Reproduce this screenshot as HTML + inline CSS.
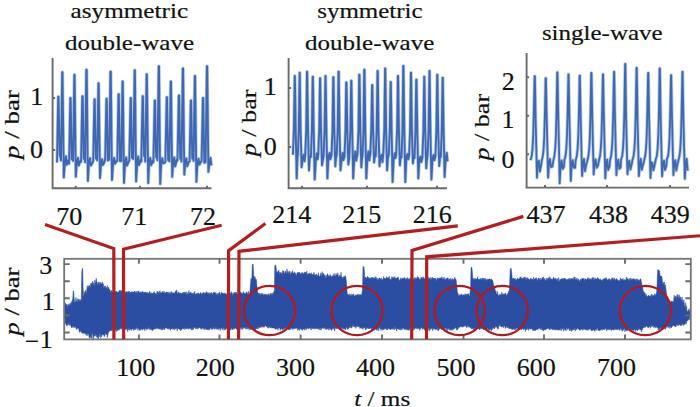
<!DOCTYPE html>
<html><head><meta charset="utf-8"><title>Pressure traces</title>
<style>
html,body{margin:0;padding:0;background:#fff;}
svg{display:block;}
text{font-family:"Liberation Serif", "DejaVu Serif", serif;fill:#111;stroke:#111;stroke-width:0.2px;}
</style></head>
<body>
<svg width="700" height="407" viewBox="0 0 700 407">
<rect width="700" height="407" fill="#fff"/>
<path d="M57.0,162.6 L58.2,96.8 L58.5,96.8 L59.7,155.2 L60.6,157.6 L61.0,160.5 L62.2,72.2 L62.5,72.2 L63.8,177.4 L64.8,163.8 L65.9,156.1 L66.8,164.8 L68.4,160.1 L69.1,163.7 L70.3,98.0 L70.6,98.0 L71.8,159.3 L72.7,156.5 L73.1,160.8 L74.3,74.7 L74.6,74.7 L75.8,176.7 L76.8,162.9 L78.0,158.0 L78.8,165.5 L80.5,160.8 L81.1,161.8 L82.3,96.3 L82.7,96.3 L83.8,158.7 L84.7,157.0 L85.1,162.2 L86.3,69.7 L86.7,69.7 L87.9,180.9 L88.9,163.5 L90.0,158.3 L90.9,165.5 L92.5,162.9 L93.2,160.8 L94.4,99.2 L94.7,99.2 L95.9,158.6 L96.8,158.5 L97.2,160.3 L98.4,83.3 L98.7,83.3 L100.0,178.0 L101.0,164.9 L102.1,159.2 L103.0,165.1 L104.6,161.7 L105.2,158.7 L106.4,98.7 L106.8,98.7 L107.9,160.5 L108.8,155.6 L109.2,159.7 L110.4,71.7 L110.8,71.7 L112.0,180.0 L113.0,164.7 L114.1,158.0 L115.0,163.9 L116.6,161.0 L117.3,161.0 L118.5,94.3 L118.8,94.3 L120.0,161.1 L120.9,158.1 L121.3,161.2 L122.5,81.5 L122.8,81.5 L124.0,182.9 L125.0,163.8 L126.2,157.4 L127.0,165.6 L128.7,161.6 L129.3,160.8 L130.6,98.0 L130.9,98.0 L132.0,157.8 L132.9,157.3 L133.3,159.0 L134.6,70.2 L134.9,70.2 L136.1,181.4 L137.1,164.5 L138.2,156.5 L139.1,165.1 L140.7,160.0 L141.3,161.6 L142.6,96.3 L142.9,96.3 L144.1,155.9 L144.9,155.6 L145.3,161.6 L146.6,74.2 L146.9,74.2 L148.2,183.0 L149.2,161.8 L150.2,157.9 L151.2,165.3 L152.8,160.4 L153.4,162.3 L154.7,100.5 L155.0,100.5 L156.1,157.2 L157.0,157.5 L157.4,160.2 L158.7,66.1 L159.0,66.1 L160.2,183.9 L161.2,164.0 L162.3,158.1 L163.2,163.3 L164.8,162.7 L165.4,161.6 L166.7,97.3 L167.0,97.3 L168.2,160.1 L169.0,158.7 L169.4,161.3 L170.7,81.5 L171.0,81.5 L172.2,176.8 L173.2,163.2 L174.3,157.5 L175.2,166.4 L176.9,159.5 L177.5,160.5 L178.8,95.5 L179.1,95.5 L180.2,158.5 L181.1,157.3 L181.5,161.5 L182.8,68.5 L183.1,68.5 L184.3,174.6 L185.3,162.3 L186.4,158.5 L187.3,166.2 L188.9,161.8 L189.6,161.2 L190.8,100.5 L191.1,100.5 L192.3,158.5 L193.2,157.4 L193.6,160.8 L194.8,75.9 L195.1,75.9 L196.4,181.9 L197.4,163.2 L198.5,158.7 L199.4,164.9 L201.0,161.5 L201.6,161.2 L202.9,98.0 L203.2,98.0 L204.3,162.8 L205.2,159.2 L205.6,162.2 L206.9,66.1 L207.2,66.1 L208.4,171.9 L209.4,163.7 L210.5,157.8 L211.4,165.5" fill="none" stroke="#6d9ad2" stroke-opacity="0.5" stroke-width="3.4" stroke-linejoin="round"/>
<path d="M57.0,162.6 L58.2,96.8 L58.5,96.8 L59.7,155.2 L60.6,157.6 L61.0,160.5 L62.2,72.2 L62.5,72.2 L63.8,177.4 L64.8,163.8 L65.9,156.1 L66.8,164.8 L68.4,160.1 L69.1,163.7 L70.3,98.0 L70.6,98.0 L71.8,159.3 L72.7,156.5 L73.1,160.8 L74.3,74.7 L74.6,74.7 L75.8,176.7 L76.8,162.9 L78.0,158.0 L78.8,165.5 L80.5,160.8 L81.1,161.8 L82.3,96.3 L82.7,96.3 L83.8,158.7 L84.7,157.0 L85.1,162.2 L86.3,69.7 L86.7,69.7 L87.9,180.9 L88.9,163.5 L90.0,158.3 L90.9,165.5 L92.5,162.9 L93.2,160.8 L94.4,99.2 L94.7,99.2 L95.9,158.6 L96.8,158.5 L97.2,160.3 L98.4,83.3 L98.7,83.3 L100.0,178.0 L101.0,164.9 L102.1,159.2 L103.0,165.1 L104.6,161.7 L105.2,158.7 L106.4,98.7 L106.8,98.7 L107.9,160.5 L108.8,155.6 L109.2,159.7 L110.4,71.7 L110.8,71.7 L112.0,180.0 L113.0,164.7 L114.1,158.0 L115.0,163.9 L116.6,161.0 L117.3,161.0 L118.5,94.3 L118.8,94.3 L120.0,161.1 L120.9,158.1 L121.3,161.2 L122.5,81.5 L122.8,81.5 L124.0,182.9 L125.0,163.8 L126.2,157.4 L127.0,165.6 L128.7,161.6 L129.3,160.8 L130.6,98.0 L130.9,98.0 L132.0,157.8 L132.9,157.3 L133.3,159.0 L134.6,70.2 L134.9,70.2 L136.1,181.4 L137.1,164.5 L138.2,156.5 L139.1,165.1 L140.7,160.0 L141.3,161.6 L142.6,96.3 L142.9,96.3 L144.1,155.9 L144.9,155.6 L145.3,161.6 L146.6,74.2 L146.9,74.2 L148.2,183.0 L149.2,161.8 L150.2,157.9 L151.2,165.3 L152.8,160.4 L153.4,162.3 L154.7,100.5 L155.0,100.5 L156.1,157.2 L157.0,157.5 L157.4,160.2 L158.7,66.1 L159.0,66.1 L160.2,183.9 L161.2,164.0 L162.3,158.1 L163.2,163.3 L164.8,162.7 L165.4,161.6 L166.7,97.3 L167.0,97.3 L168.2,160.1 L169.0,158.7 L169.4,161.3 L170.7,81.5 L171.0,81.5 L172.2,176.8 L173.2,163.2 L174.3,157.5 L175.2,166.4 L176.9,159.5 L177.5,160.5 L178.8,95.5 L179.1,95.5 L180.2,158.5 L181.1,157.3 L181.5,161.5 L182.8,68.5 L183.1,68.5 L184.3,174.6 L185.3,162.3 L186.4,158.5 L187.3,166.2 L188.9,161.8 L189.6,161.2 L190.8,100.5 L191.1,100.5 L192.3,158.5 L193.2,157.4 L193.6,160.8 L194.8,75.9 L195.1,75.9 L196.4,181.9 L197.4,163.2 L198.5,158.7 L199.4,164.9 L201.0,161.5 L201.6,161.2 L202.9,98.0 L203.2,98.0 L204.3,162.8 L205.2,159.2 L205.6,162.2 L206.9,66.1 L207.2,66.1 L208.4,171.9 L209.4,163.7 L210.5,157.8 L211.4,165.5" fill="none" stroke="#4068b2" stroke-width="1.9" stroke-linejoin="round"/>
<path d="M52.6,58 V188.2 H211.5 M75.7,188.2 v-2.5 M140,188.2 v-2.5 M207,188.2 v-2.5 M52.6,98 h2.5 M52.6,150 h2.5" fill="none" stroke="#6a6a6a" stroke-width="1.9"/>
<path d="M292.9,154.8 L293.9,130.0 L294.7,75.9 L294.9,75.9 L295.7,130.0 L296.7,178.4 L297.5,156.0 L297.8,155.6 L298.8,130.0 L299.6,72.7 L299.8,72.7 L300.6,130.0 L301.6,167.3 L302.7,159.6 L303.7,154.7 L304.6,161.2 L305.2,155.2 L306.2,130.0 L307.0,71.7 L307.2,71.7 L308.0,130.0 L309.0,170.4 L309.8,156.8 L310.9,157.1 L311.9,130.0 L312.7,76.6 L312.9,76.6 L313.7,130.0 L314.7,179.4 L315.8,161.5 L316.8,153.4 L317.7,159.2 L318.2,154.6 L319.2,130.0 L320.0,78.3 L320.2,78.3 L321.0,130.0 L322.0,165.3 L322.8,160.4 L323.6,156.3 L324.6,130.0 L325.4,75.9 L325.6,75.9 L326.4,130.0 L327.4,178.4 L328.5,156.4 L329.5,152.9 L330.4,159.3 L331.5,155.1 L332.5,130.0 L333.2,77.1 L333.5,77.1 L334.3,130.0 L335.3,166.3 L336.1,157.3 L336.7,154.9 L337.7,130.0 L338.5,71.7 L338.8,71.7 L339.5,130.0 L340.5,170.4 L341.6,159.8 L342.6,152.9 L343.5,160.1 L344.5,156.6 L345.5,130.0 L346.2,82.5 L346.5,82.5 L347.3,130.0 L348.3,164.5 L349.1,159.2 L349.4,153.5 L350.4,130.0 L351.2,80.8 L351.4,80.8 L352.2,130.0 L353.2,178.4 L354.3,158.6 L355.3,151.5 L356.2,160.7 L357.5,154.1 L358.5,130.0 L359.2,74.7 L359.5,74.7 L360.3,130.0 L361.3,167.3 L362.1,158.0 L362.5,155.9 L363.5,130.0 L364.2,69.7 L364.5,69.7 L365.3,130.0 L366.3,178.4 L367.4,158.5 L368.4,151.4 L369.3,160.4 L370.3,154.4 L371.3,130.0 L372.1,85.0 L372.3,85.0 L373.1,130.0 L374.1,162.5 L374.9,156.0 L375.7,156.3 L376.7,130.0 L377.5,71.0 L377.8,71.0 L378.5,130.0 L379.5,166.3 L380.6,157.3 L381.6,154.8 L382.5,162.1 L383.3,153.0 L384.3,130.0 L385.1,68.5 L385.3,68.5 L386.1,130.0 L387.1,170.4 L387.9,158.4 L388.8,154.3 L389.8,130.0 L390.6,82.0 L390.8,82.0 L391.6,130.0 L392.6,182.0 L393.7,159.0 L394.7,153.1 L395.6,158.0 L396.1,155.6 L397.1,130.0 L397.9,75.9 L398.1,75.9 L398.9,130.0 L399.9,165.3 L400.7,157.6 L401.5,157.4 L402.5,130.0 L403.2,66.0 L403.5,66.0 L404.3,130.0 L405.3,182.0 L406.4,157.2 L407.4,154.1 L408.3,159.4 L409.1,155.5 L410.1,130.0 L410.9,72.7 L411.1,72.7 L411.9,130.0 L412.9,163.5 L413.7,156.7 L414.5,158.2 L415.5,130.0 L416.2,79.6 L416.5,79.6 L417.3,130.0 L418.3,178.4 L419.4,159.9 L420.4,156.6 L421.3,162.0 L422.4,157.3 L423.4,130.0 L424.2,76.6 L424.4,76.6 L425.2,130.0 L426.2,168.3 L427.0,159.3 L427.6,155.1 L428.6,130.0 L429.4,71.0 L429.6,71.0 L430.4,130.0 L431.4,179.5 L432.5,158.9 L433.5,155.0 L434.4,160.4 L435.4,156.3 L436.4,130.0 L437.2,74.7 L437.4,74.7 L438.2,130.0 L439.2,166.0 L440.0,158.0 L440.8,156.9 L441.8,130.0 L442.6,77.6 L442.8,77.6 L443.6,130.0 L444.6,177.0 L445.7,158.5 L446.7,152.8 L447.6,161.4" fill="none" stroke="#6d9ad2" stroke-opacity="0.5" stroke-width="3.4" stroke-linejoin="round"/>
<path d="M292.9,154.8 L293.9,130.0 L294.7,75.9 L294.9,75.9 L295.7,130.0 L296.7,178.4 L297.5,156.0 L297.8,155.6 L298.8,130.0 L299.6,72.7 L299.8,72.7 L300.6,130.0 L301.6,167.3 L302.7,159.6 L303.7,154.7 L304.6,161.2 L305.2,155.2 L306.2,130.0 L307.0,71.7 L307.2,71.7 L308.0,130.0 L309.0,170.4 L309.8,156.8 L310.9,157.1 L311.9,130.0 L312.7,76.6 L312.9,76.6 L313.7,130.0 L314.7,179.4 L315.8,161.5 L316.8,153.4 L317.7,159.2 L318.2,154.6 L319.2,130.0 L320.0,78.3 L320.2,78.3 L321.0,130.0 L322.0,165.3 L322.8,160.4 L323.6,156.3 L324.6,130.0 L325.4,75.9 L325.6,75.9 L326.4,130.0 L327.4,178.4 L328.5,156.4 L329.5,152.9 L330.4,159.3 L331.5,155.1 L332.5,130.0 L333.2,77.1 L333.5,77.1 L334.3,130.0 L335.3,166.3 L336.1,157.3 L336.7,154.9 L337.7,130.0 L338.5,71.7 L338.8,71.7 L339.5,130.0 L340.5,170.4 L341.6,159.8 L342.6,152.9 L343.5,160.1 L344.5,156.6 L345.5,130.0 L346.2,82.5 L346.5,82.5 L347.3,130.0 L348.3,164.5 L349.1,159.2 L349.4,153.5 L350.4,130.0 L351.2,80.8 L351.4,80.8 L352.2,130.0 L353.2,178.4 L354.3,158.6 L355.3,151.5 L356.2,160.7 L357.5,154.1 L358.5,130.0 L359.2,74.7 L359.5,74.7 L360.3,130.0 L361.3,167.3 L362.1,158.0 L362.5,155.9 L363.5,130.0 L364.2,69.7 L364.5,69.7 L365.3,130.0 L366.3,178.4 L367.4,158.5 L368.4,151.4 L369.3,160.4 L370.3,154.4 L371.3,130.0 L372.1,85.0 L372.3,85.0 L373.1,130.0 L374.1,162.5 L374.9,156.0 L375.7,156.3 L376.7,130.0 L377.5,71.0 L377.8,71.0 L378.5,130.0 L379.5,166.3 L380.6,157.3 L381.6,154.8 L382.5,162.1 L383.3,153.0 L384.3,130.0 L385.1,68.5 L385.3,68.5 L386.1,130.0 L387.1,170.4 L387.9,158.4 L388.8,154.3 L389.8,130.0 L390.6,82.0 L390.8,82.0 L391.6,130.0 L392.6,182.0 L393.7,159.0 L394.7,153.1 L395.6,158.0 L396.1,155.6 L397.1,130.0 L397.9,75.9 L398.1,75.9 L398.9,130.0 L399.9,165.3 L400.7,157.6 L401.5,157.4 L402.5,130.0 L403.2,66.0 L403.5,66.0 L404.3,130.0 L405.3,182.0 L406.4,157.2 L407.4,154.1 L408.3,159.4 L409.1,155.5 L410.1,130.0 L410.9,72.7 L411.1,72.7 L411.9,130.0 L412.9,163.5 L413.7,156.7 L414.5,158.2 L415.5,130.0 L416.2,79.6 L416.5,79.6 L417.3,130.0 L418.3,178.4 L419.4,159.9 L420.4,156.6 L421.3,162.0 L422.4,157.3 L423.4,130.0 L424.2,76.6 L424.4,76.6 L425.2,130.0 L426.2,168.3 L427.0,159.3 L427.6,155.1 L428.6,130.0 L429.4,71.0 L429.6,71.0 L430.4,130.0 L431.4,179.5 L432.5,158.9 L433.5,155.0 L434.4,160.4 L435.4,156.3 L436.4,130.0 L437.2,74.7 L437.4,74.7 L438.2,130.0 L439.2,166.0 L440.0,158.0 L440.8,156.9 L441.8,130.0 L442.6,77.6 L442.8,77.6 L443.6,130.0 L444.6,177.0 L445.7,158.5 L446.7,152.8 L447.6,161.4" fill="none" stroke="#4068b2" stroke-width="1.9" stroke-linejoin="round"/>
<path d="M288.6,58 V188.2 H447 M302,188.2 v-2.5 M367,188.2 v-2.5 M437,188.2 v-2.5 M288.6,88 h2.5 M288.6,147 h2.5" fill="none" stroke="#6a6a6a" stroke-width="1.9"/>
<path d="M530.5,160.2 L531.7,156.0 L532.5,149.0 L533.2,136.0 L533.8,114.0 L534.6,76.1 L534.9,76.1 L535.6,118.0 L536.3,148.0 L537.0,177.6 L537.9,162.0 L538.9,160.8 L539.9,171.7 L541.3,164.5 L541.6,161.4 L542.8,156.0 L543.6,149.0 L544.3,136.0 L544.9,114.0 L545.6,78.2 L545.9,78.2 L546.7,118.0 L547.4,148.0 L548.1,177.6 L549.0,163.5 L550.0,159.0 L551.0,167.0 L552.4,166.7 L553.2,161.0 L554.4,156.0 L555.2,149.0 L555.9,136.0 L556.5,114.0 L557.2,72.5 L557.5,72.5 L558.3,118.0 L559.0,148.0 L559.7,183.3 L560.6,165.0 L561.6,160.3 L562.6,169.0 L564.0,166.7 L564.3,160.5 L565.5,156.0 L566.3,149.0 L567.0,136.0 L567.6,114.0 L568.4,74.3 L568.6,74.3 L569.4,118.0 L570.1,148.0 L570.8,180.9 L571.7,163.5 L572.7,160.2 L573.7,167.7 L575.1,167.8 L575.6,160.9 L576.8,156.0 L577.6,149.0 L578.3,136.0 L578.9,114.0 L579.6,75.6 L579.9,75.6 L580.7,118.0 L581.4,148.0 L582.1,176.0 L583.0,165.0 L584.0,158.9 L585.0,171.2 L586.4,163.6 L587.2,161.5 L588.4,156.0 L589.2,149.0 L589.9,136.0 L590.5,114.0 L591.2,73.0 L591.5,73.0 L592.3,118.0 L593.0,148.0 L593.7,174.4 L594.6,161.8 L595.6,159.3 L596.6,167.8 L598.0,165.7 L598.8,161.0 L600.0,156.0 L600.8,149.0 L601.5,136.0 L602.1,114.0 L602.9,74.3 L603.1,74.3 L603.9,118.0 L604.6,148.0 L605.3,178.3 L606.2,164.1 L607.2,159.6 L608.2,170.0 L609.6,166.3 L609.9,160.8 L611.1,156.0 L611.9,149.0 L612.6,136.0 L613.2,114.0 L614.0,71.8 L614.2,71.8 L615.0,118.0 L615.7,148.0 L616.4,175.1 L617.3,162.8 L618.3,159.7 L619.3,168.9 L620.7,167.3 L621.0,159.8 L622.2,156.0 L623.0,149.0 L623.7,136.0 L624.3,114.0 L625.1,64.0 L625.4,64.0 L626.1,118.0 L626.8,148.0 L627.5,174.3 L628.4,163.6 L629.4,160.8 L630.4,169.6 L631.8,163.9 L632.4,160.2 L633.6,156.0 L634.4,149.0 L635.1,136.0 L635.7,114.0 L636.5,67.9 L636.8,67.9 L637.5,118.0 L638.2,148.0 L638.9,176.1 L639.8,165.2 L640.8,158.8 L641.8,169.9 L643.2,164.3 L644.0,161.3 L645.2,156.0 L646.0,149.0 L646.7,136.0 L647.3,114.0 L648.1,73.0 L648.4,73.0 L649.1,118.0 L649.8,148.0 L650.5,178.0 L651.4,162.2 L652.4,162.9 L653.4,170.3 L654.8,164.4 L655.6,160.1 L656.8,156.0 L657.6,149.0 L658.3,136.0 L658.9,114.0 L659.6,68.4 L659.9,68.4 L660.7,118.0 L661.4,148.0 L662.1,176.4 L663.0,164.0 L664.0,160.7 L665.0,170.0 L666.4,165.6 L666.9,159.4 L668.1,156.0 L668.9,149.0 L669.6,136.0 L670.2,114.0 L671.0,75.1 L671.2,75.1 L672.0,118.0 L672.7,148.0 L673.4,175.1 L674.3,162.8 L675.3,160.2 L676.3,170.7 L677.7,163.2 L678.3,160.8 L679.5,156.0 L680.3,149.0 L681.0,136.0 L681.6,114.0 L682.4,71.8 L682.6,71.8 L683.4,118.0 L684.1,148.0 L684.8,178.8 L685.7,165.1 L686.7,158.7 L687.7,170.8" fill="none" stroke="#6d9ad2" stroke-opacity="0.5" stroke-width="3.4" stroke-linejoin="round"/>
<path d="M530.5,160.2 L531.7,156.0 L532.5,149.0 L533.2,136.0 L533.8,114.0 L534.6,76.1 L534.9,76.1 L535.6,118.0 L536.3,148.0 L537.0,177.6 L537.9,162.0 L538.9,160.8 L539.9,171.7 L541.3,164.5 L541.6,161.4 L542.8,156.0 L543.6,149.0 L544.3,136.0 L544.9,114.0 L545.6,78.2 L545.9,78.2 L546.7,118.0 L547.4,148.0 L548.1,177.6 L549.0,163.5 L550.0,159.0 L551.0,167.0 L552.4,166.7 L553.2,161.0 L554.4,156.0 L555.2,149.0 L555.9,136.0 L556.5,114.0 L557.2,72.5 L557.5,72.5 L558.3,118.0 L559.0,148.0 L559.7,183.3 L560.6,165.0 L561.6,160.3 L562.6,169.0 L564.0,166.7 L564.3,160.5 L565.5,156.0 L566.3,149.0 L567.0,136.0 L567.6,114.0 L568.4,74.3 L568.6,74.3 L569.4,118.0 L570.1,148.0 L570.8,180.9 L571.7,163.5 L572.7,160.2 L573.7,167.7 L575.1,167.8 L575.6,160.9 L576.8,156.0 L577.6,149.0 L578.3,136.0 L578.9,114.0 L579.6,75.6 L579.9,75.6 L580.7,118.0 L581.4,148.0 L582.1,176.0 L583.0,165.0 L584.0,158.9 L585.0,171.2 L586.4,163.6 L587.2,161.5 L588.4,156.0 L589.2,149.0 L589.9,136.0 L590.5,114.0 L591.2,73.0 L591.5,73.0 L592.3,118.0 L593.0,148.0 L593.7,174.4 L594.6,161.8 L595.6,159.3 L596.6,167.8 L598.0,165.7 L598.8,161.0 L600.0,156.0 L600.8,149.0 L601.5,136.0 L602.1,114.0 L602.9,74.3 L603.1,74.3 L603.9,118.0 L604.6,148.0 L605.3,178.3 L606.2,164.1 L607.2,159.6 L608.2,170.0 L609.6,166.3 L609.9,160.8 L611.1,156.0 L611.9,149.0 L612.6,136.0 L613.2,114.0 L614.0,71.8 L614.2,71.8 L615.0,118.0 L615.7,148.0 L616.4,175.1 L617.3,162.8 L618.3,159.7 L619.3,168.9 L620.7,167.3 L621.0,159.8 L622.2,156.0 L623.0,149.0 L623.7,136.0 L624.3,114.0 L625.1,64.0 L625.4,64.0 L626.1,118.0 L626.8,148.0 L627.5,174.3 L628.4,163.6 L629.4,160.8 L630.4,169.6 L631.8,163.9 L632.4,160.2 L633.6,156.0 L634.4,149.0 L635.1,136.0 L635.7,114.0 L636.5,67.9 L636.8,67.9 L637.5,118.0 L638.2,148.0 L638.9,176.1 L639.8,165.2 L640.8,158.8 L641.8,169.9 L643.2,164.3 L644.0,161.3 L645.2,156.0 L646.0,149.0 L646.7,136.0 L647.3,114.0 L648.1,73.0 L648.4,73.0 L649.1,118.0 L649.8,148.0 L650.5,178.0 L651.4,162.2 L652.4,162.9 L653.4,170.3 L654.8,164.4 L655.6,160.1 L656.8,156.0 L657.6,149.0 L658.3,136.0 L658.9,114.0 L659.6,68.4 L659.9,68.4 L660.7,118.0 L661.4,148.0 L662.1,176.4 L663.0,164.0 L664.0,160.7 L665.0,170.0 L666.4,165.6 L666.9,159.4 L668.1,156.0 L668.9,149.0 L669.6,136.0 L670.2,114.0 L671.0,75.1 L671.2,75.1 L672.0,118.0 L672.7,148.0 L673.4,175.1 L674.3,162.8 L675.3,160.2 L676.3,170.7 L677.7,163.2 L678.3,160.8 L679.5,156.0 L680.3,149.0 L681.0,136.0 L681.6,114.0 L682.4,71.8 L682.6,71.8 L683.4,118.0 L684.1,148.0 L684.8,178.8 L685.7,165.1 L686.7,158.7 L687.7,170.8" fill="none" stroke="#4068b2" stroke-width="1.8" stroke-linejoin="round"/>
<path d="M526.6,53 V187.6 H689 M545,187.6 v-2.5 M607,187.6 v-2.5 M670,187.6 v-2.5 M526.6,77.3 h2.5 M526.6,115.8 h2.5 M526.6,154.3 h2.5" fill="none" stroke="#6a6a6a" stroke-width="1.9"/>
<path d="M64.2,308.0 L64.7,305.7 L65.1,302.9 L65.6,303.2 L66.0,305.3 L66.5,304.2 L66.9,305.6 L67.4,307.5 L67.8,304.3 L68.3,303.9 L68.7,305.6 L69.2,305.2 L69.6,304.6 L70.1,302.8 L70.5,304.1 L71.0,305.1 L71.4,301.6 L71.9,302.7 L72.3,300.1 L72.8,298.5 L73.2,291.0 L73.7,291.0 L74.1,297.6 L74.6,302.4 L75.0,302.0 L75.5,301.4 L75.9,297.5 L76.4,300.6 L76.8,301.2 L77.3,301.4 L77.7,298.6 L78.2,300.2 L78.6,299.3 L79.1,299.4 L79.5,302.3 L80.0,299.2 L80.4,300.0 L80.9,300.9 L81.3,299.0 L81.8,271.5 L82.2,268.6 L82.7,268.5 L83.1,287.5 L83.6,296.2 L84.0,296.0 L84.5,291.6 L84.9,293.1 L85.4,291.6 L85.8,290.0 L86.3,294.3 L86.7,290.7 L87.2,285.6 L87.6,287.8 L88.1,288.2 L88.5,285.8 L89.0,287.1 L89.4,285.2 L89.9,286.5 L90.3,288.0 L90.8,283.1 L91.2,284.8 L91.7,283.2 L92.1,284.2 L92.6,281.1 L93.0,282.2 L93.5,283.0 L93.9,285.3 L94.4,285.7 L94.8,280.1 L95.3,281.2 L95.7,284.2 L96.2,278.3 L96.6,281.6 L97.1,282.3 L97.5,285.3 L98.0,284.2 L98.4,282.0 L98.9,282.0 L99.3,282.3 L99.8,286.3 L100.2,282.2 L100.7,282.7 L101.1,284.3 L101.6,283.5 L102.0,283.6 L102.5,281.8 L102.9,284.4 L103.4,283.8 L103.8,287.7 L104.3,287.0 L104.7,285.9 L105.2,287.8 L105.6,285.9 L106.1,289.4 L106.5,287.4 L107.0,289.1 L107.4,285.4 L107.9,289.4 L108.3,287.3 L108.8,287.4 L109.2,289.5 L109.7,289.3 L110.1,290.7 L110.6,293.0 L111.0,290.2 L111.5,290.6 L111.9,291.7 L112.4,292.2 L112.8,291.7 L113.3,291.8 L113.7,292.7 L114.2,292.5 L114.6,291.0 L115.1,292.0 L115.5,292.1 L116.0,291.0 L116.4,292.3 L116.9,291.2 L117.3,293.0 L117.8,292.3 L118.2,292.2 L118.7,291.5 L119.1,292.0 L119.6,290.1 L120.0,291.0 L120.5,292.5 L120.9,290.0 L121.4,293.0 L121.8,290.4 L122.3,292.9 L122.7,291.3 L123.2,293.0 L123.6,292.3 L124.1,290.7 L124.5,293.5 L125.0,293.7 L125.4,292.2 L125.9,292.0 L126.3,292.1 L126.8,291.3 L127.2,293.3 L127.7,291.7 L128.1,292.2 L128.6,291.5 L129.0,291.7 L129.5,291.0 L129.9,293.6 L130.4,292.2 L130.8,293.3 L131.3,292.3 L131.7,291.6 L132.2,292.0 L132.6,291.8 L133.1,292.4 L133.5,292.0 L134.0,292.1 L134.4,291.0 L134.9,291.6 L135.3,294.0 L135.8,291.7 L136.2,291.3 L136.7,292.7 L137.1,293.8 L137.6,291.0 L138.0,292.2 L138.5,291.8 L138.9,290.7 L139.4,293.2 L139.8,292.4 L140.3,292.5 L140.7,291.7 L141.2,292.9 L141.6,292.0 L142.1,292.4 L142.5,291.4 L143.0,291.3 L143.4,293.9 L143.9,292.0 L144.3,292.8 L144.8,292.5 L145.2,292.1 L145.7,292.1 L146.1,293.2 L146.6,292.3 L147.0,292.4 L147.5,292.6 L147.9,293.8 L148.4,293.3 L148.8,293.0 L149.3,292.1 L149.7,291.2 L150.2,293.6 L150.6,293.6 L151.1,292.5 L151.5,293.2 L152.0,293.4 L152.4,293.5 L152.9,293.6 L153.3,292.2 L153.8,294.2 L154.2,291.5 L154.7,293.6 L155.1,293.2 L155.6,293.6 L156.0,294.6 L156.5,294.2 L156.9,291.6 L157.4,291.1 L157.8,293.6 L158.3,291.8 L158.7,292.8 L159.2,293.6 L159.6,291.1 L160.1,290.7 L160.5,293.1 L161.0,292.9 L161.4,292.6 L161.9,292.9 L162.3,292.0 L162.8,291.3 L163.2,292.7 L163.7,291.9 L164.1,291.2 L164.6,293.4 L165.0,292.8 L165.5,293.3 L165.9,291.9 L166.4,292.2 L166.8,291.9 L167.3,292.0 L167.7,293.1 L168.2,292.1 L168.6,293.2 L169.1,293.2 L169.5,294.9 L170.0,291.5 L170.4,293.8 L170.9,292.8 L171.3,292.9 L171.8,291.5 L172.2,292.5 L172.7,293.7 L173.1,292.8 L173.6,293.0 L174.0,292.6 L174.5,294.1 L174.9,292.9 L175.4,290.8 L175.8,292.3 L176.3,291.0 L176.7,289.7 L177.2,292.4 L177.6,294.3 L178.1,293.0 L178.5,291.8 L179.0,292.0 L179.4,294.1 L179.9,293.2 L180.3,293.1 L180.8,293.0 L181.2,293.1 L181.7,293.8 L182.1,293.6 L182.6,293.2 L183.0,292.0 L183.5,293.5 L183.9,292.4 L184.4,294.1 L184.8,291.8 L185.3,292.9 L185.7,293.0 L186.2,291.7 L186.6,294.8 L187.1,294.5 L187.5,292.6 L188.0,293.9 L188.4,293.5 L188.9,290.5 L189.3,293.3 L189.8,293.0 L190.2,293.2 L190.7,292.0 L191.1,292.8 L191.6,292.9 L192.0,294.3 L192.5,293.5 L192.9,293.1 L193.4,294.7 L193.8,292.6 L194.3,292.8 L194.7,291.3 L195.2,294.7 L195.6,294.1 L196.1,294.1 L196.5,293.8 L197.0,293.3 L197.4,293.4 L197.9,292.9 L198.3,293.0 L198.8,293.2 L199.2,294.7 L199.7,293.8 L200.1,293.1 L200.6,292.6 L201.0,292.6 L201.5,294.8 L201.9,293.7 L202.4,293.3 L202.8,292.9 L203.3,292.1 L203.7,293.2 L204.2,294.1 L204.6,292.8 L205.1,293.0 L205.5,293.0 L206.0,293.3 L206.4,291.6 L206.9,293.0 L207.3,292.4 L207.8,294.1 L208.2,292.5 L208.7,293.8 L209.1,294.8 L209.6,292.9 L210.0,292.6 L210.5,293.4 L210.9,293.3 L211.4,292.3 L211.8,293.7 L212.3,295.3 L212.7,293.0 L213.2,293.1 L213.6,292.2 L214.1,293.6 L214.5,292.0 L215.0,292.2 L215.4,294.6 L215.9,292.4 L216.3,294.4 L216.8,294.8 L217.2,293.5 L217.7,293.8 L218.1,295.2 L218.6,293.1 L219.0,292.7 L219.5,291.9 L219.9,293.3 L220.4,294.8 L220.8,294.3 L221.3,292.4 L221.7,292.5 L222.2,292.8 L222.6,293.6 L223.1,293.1 L223.5,293.5 L224.0,293.6 L224.4,293.0 L224.9,293.3 L225.3,293.5 L225.8,293.2 L226.2,293.8 L226.7,295.2 L227.1,293.9 L227.6,293.4 L228.0,291.7 L228.5,293.7 L228.9,291.4 L229.4,291.9 L229.8,294.2 L230.3,294.1 L230.7,293.2 L231.2,291.6 L231.6,293.0 L232.1,292.7 L232.5,294.0 L233.0,295.6 L233.4,293.6 L233.9,292.6 L234.3,292.2 L234.8,293.3 L235.2,293.2 L235.7,292.2 L236.1,293.5 L236.6,292.2 L237.0,294.5 L237.5,294.4 L237.9,294.5 L238.4,292.9 L238.8,293.9 L239.3,293.3 L239.7,293.0 L240.2,293.1 L240.6,292.1 L241.1,291.9 L241.5,294.1 L242.0,293.1 L242.4,293.5 L242.9,294.3 L243.3,291.5 L243.8,292.5 L244.2,293.4 L244.7,293.6 L245.1,292.8 L245.6,294.2 L246.0,293.4 L246.5,291.9 L246.9,292.2 L247.4,293.9 L247.8,293.5 L248.3,291.2 L248.7,294.4 L249.2,293.6 L249.6,294.3 L250.1,289.1 L250.5,284.2 L251.0,278.4 L251.4,280.3 L251.9,277.1 L252.3,264.5 L252.8,263.9 L253.2,264.5 L253.7,276.1 L254.1,276.3 L254.6,278.3 L255.0,276.7 L255.5,279.6 L255.9,279.3 L256.4,279.4 L256.8,284.5 L257.3,289.0 L257.7,292.6 L258.2,293.3 L258.6,293.3 L259.1,294.2 L259.5,293.5 L260.0,293.2 L260.4,294.5 L260.9,295.4 L261.3,293.0 L261.8,294.6 L262.2,293.9 L262.7,293.6 L263.1,295.4 L263.6,294.1 L264.0,296.1 L264.5,293.8 L264.9,295.0 L265.4,294.4 L265.8,293.9 L266.3,295.3 L266.7,294.5 L267.2,295.3 L267.6,294.7 L268.1,293.6 L268.5,294.6 L269.0,294.8 L269.4,295.7 L269.9,293.8 L270.3,294.7 L270.8,293.0 L271.2,295.4 L271.7,293.7 L272.1,292.9 L272.6,294.3 L273.0,295.1 L273.5,292.1 L273.9,292.2 L274.4,290.2 L274.8,265.5 L275.3,265.9 L275.7,264.7 L276.2,268.0 L276.6,273.3 L277.1,271.5 L277.5,273.1 L278.0,271.2 L278.4,270.9 L278.9,270.0 L279.3,275.2 L279.8,272.2 L280.2,273.0 L280.7,272.6 L281.1,272.9 L281.6,272.7 L282.0,275.4 L282.5,271.3 L282.9,270.5 L283.4,271.3 L283.8,270.9 L284.3,273.8 L284.7,273.9 L285.2,271.5 L285.6,270.9 L286.1,272.4 L286.5,274.8 L287.0,268.9 L287.4,273.6 L287.9,271.4 L288.3,274.4 L288.8,271.5 L289.2,272.6 L289.7,270.9 L290.1,271.7 L290.6,275.0 L291.0,274.2 L291.5,272.5 L291.9,271.9 L292.4,270.5 L292.8,272.6 L293.3,273.1 L293.7,273.1 L294.2,273.1 L294.6,271.7 L295.1,273.2 L295.5,273.2 L296.0,275.1 L296.4,275.9 L296.9,273.2 L297.3,272.3 L297.8,273.3 L298.2,272.6 L298.7,272.4 L299.1,273.4 L299.6,272.0 L300.0,274.3 L300.5,273.4 L300.9,273.9 L301.4,273.3 L301.8,272.6 L302.3,272.3 L302.7,273.4 L303.2,273.0 L303.6,274.1 L304.1,273.8 L304.5,271.9 L305.0,274.0 L305.4,272.0 L305.9,273.1 L306.3,273.6 L306.8,271.1 L307.2,274.2 L307.7,274.3 L308.1,273.9 L308.6,273.5 L309.0,273.7 L309.5,272.8 L309.9,273.9 L310.4,273.5 L310.8,274.4 L311.3,272.7 L311.7,274.7 L312.2,274.6 L312.6,274.2 L313.1,273.9 L313.5,275.3 L314.0,272.2 L314.4,275.2 L314.9,275.0 L315.3,275.0 L315.8,275.2 L316.2,273.8 L316.7,274.4 L317.1,275.7 L317.6,275.4 L318.0,275.1 L318.5,272.8 L318.9,275.7 L319.4,276.6 L319.8,276.4 L320.3,275.3 L320.7,272.9 L321.2,276.4 L321.6,274.9 L322.1,271.6 L322.5,275.7 L323.0,273.1 L323.4,273.4 L323.9,274.3 L324.3,277.0 L324.8,274.7 L325.2,275.6 L325.7,277.7 L326.1,277.5 L326.6,275.2 L327.0,275.0 L327.5,273.6 L327.9,274.4 L328.4,276.0 L328.8,276.0 L329.3,275.6 L329.7,276.9 L330.2,274.4 L330.6,275.5 L331.1,276.6 L331.5,276.4 L332.0,277.1 L332.4,276.2 L332.9,275.2 L333.3,276.2 L333.8,274.3 L334.2,273.4 L334.7,276.5 L335.1,275.7 L335.6,276.2 L336.0,273.4 L336.5,275.3 L336.9,275.0 L337.4,274.7 L337.8,272.7 L338.3,275.4 L338.7,277.2 L339.2,276.5 L339.6,275.1 L340.1,276.0 L340.5,277.1 L341.0,272.2 L341.4,275.9 L341.9,276.9 L342.3,277.1 L342.8,278.5 L343.2,277.7 L343.7,276.6 L344.1,276.6 L344.6,277.3 L345.0,275.5 L345.5,276.2 L345.9,277.6 L346.4,281.5 L346.8,288.1 L347.3,294.0 L347.7,294.3 L348.2,295.6 L348.6,294.3 L349.1,296.0 L349.5,293.7 L350.0,294.6 L350.4,294.7 L350.9,295.8 L351.3,296.2 L351.8,293.7 L352.2,294.4 L352.7,295.6 L353.1,294.6 L353.6,293.7 L354.0,296.3 L354.5,295.7 L354.9,295.7 L355.4,294.7 L355.8,296.2 L356.3,294.9 L356.7,296.2 L357.2,294.2 L357.6,294.3 L358.1,295.3 L358.5,294.4 L359.0,295.8 L359.4,295.3 L359.9,294.1 L360.3,295.1 L360.8,294.7 L361.2,295.9 L361.7,293.9 L362.1,293.0 L362.6,284.3 L363.0,266.5 L363.5,268.5 L363.9,266.6 L364.4,271.5 L364.8,278.0 L365.3,277.9 L365.7,277.0 L366.2,278.1 L366.6,278.5 L367.1,277.2 L367.5,276.4 L368.0,276.6 L368.4,278.7 L368.9,277.3 L369.3,277.9 L369.8,278.3 L370.2,278.7 L370.7,277.8 L371.1,278.6 L371.6,277.2 L372.0,277.8 L372.5,277.1 L372.9,279.3 L373.4,278.1 L373.8,277.4 L374.3,277.8 L374.7,278.0 L375.2,278.9 L375.6,276.6 L376.1,277.2 L376.5,277.9 L377.0,280.8 L377.4,279.2 L377.9,278.1 L378.3,279.0 L378.8,280.3 L379.2,278.1 L379.7,277.9 L380.1,279.5 L380.6,278.8 L381.0,279.0 L381.5,277.8 L381.9,280.2 L382.4,280.0 L382.8,278.9 L383.3,279.0 L383.7,276.3 L384.2,279.0 L384.6,278.1 L385.1,278.8 L385.5,279.0 L386.0,278.0 L386.4,276.7 L386.9,278.7 L387.3,277.6 L387.8,278.0 L388.2,277.8 L388.7,278.0 L389.1,276.1 L389.6,279.6 L390.0,278.6 L390.5,279.5 L390.9,280.4 L391.4,278.4 L391.8,276.6 L392.3,277.5 L392.7,277.2 L393.2,277.9 L393.6,278.5 L394.1,276.4 L394.5,278.8 L395.0,276.9 L395.4,278.7 L395.9,278.3 L396.3,278.1 L396.8,278.4 L397.2,277.9 L397.7,277.8 L398.1,276.8 L398.6,278.4 L399.0,280.3 L399.5,280.4 L399.9,279.8 L400.4,279.2 L400.8,277.8 L401.3,279.9 L401.7,278.4 L402.2,278.4 L402.6,278.2 L403.1,278.6 L403.5,278.0 L404.0,278.4 L404.4,277.4 L404.9,278.1 L405.3,280.8 L405.8,278.4 L406.2,278.3 L406.7,279.0 L407.1,279.2 L407.6,277.4 L408.0,278.3 L408.5,279.4 L408.9,278.8 L409.4,278.6 L409.8,280.1 L410.3,277.8 L410.7,278.6 L411.2,278.0 L411.6,280.0 L412.1,276.6 L412.5,277.9 L413.0,278.0 L413.4,279.2 L413.9,279.2 L414.3,280.0 L414.8,277.0 L415.2,279.3 L415.7,278.3 L416.1,277.9 L416.6,279.1 L417.0,277.7 L417.5,276.5 L417.9,278.2 L418.4,277.1 L418.8,277.9 L419.3,279.0 L419.7,278.9 L420.2,280.2 L420.6,278.4 L421.1,277.1 L421.5,277.9 L422.0,277.7 L422.4,277.4 L422.9,279.1 L423.3,278.0 L423.8,276.7 L424.2,279.3 L424.7,278.5 L425.1,279.0 L425.6,278.8 L426.0,279.3 L426.5,278.7 L426.9,279.9 L427.4,279.1 L427.8,279.1 L428.3,279.1 L428.7,277.2 L429.2,278.5 L429.6,278.4 L430.1,278.9 L430.5,277.4 L431.0,280.4 L431.4,278.8 L431.9,277.5 L432.3,277.0 L432.8,278.5 L433.2,278.7 L433.7,278.0 L434.1,278.8 L434.6,278.1 L435.0,279.3 L435.5,278.0 L435.9,278.7 L436.4,279.8 L436.8,281.4 L437.3,277.8 L437.7,278.3 L438.2,278.0 L438.6,279.6 L439.1,277.7 L439.5,278.3 L440.0,278.8 L440.4,277.8 L440.9,277.9 L441.3,278.4 L441.8,276.7 L442.2,277.4 L442.7,278.4 L443.1,279.0 L443.6,278.7 L444.0,277.1 L444.5,278.4 L444.9,279.7 L445.4,279.4 L445.8,278.8 L446.3,278.0 L446.7,279.5 L447.2,278.3 L447.6,277.7 L448.1,278.1 L448.5,280.4 L449.0,279.1 L449.4,280.1 L449.9,278.5 L450.3,279.9 L450.8,278.3 L451.2,278.8 L451.7,281.4 L452.1,279.7 L452.6,278.5 L453.0,278.9 L453.5,279.3 L453.9,280.2 L454.4,278.5 L454.8,277.2 L455.3,278.7 L455.7,279.0 L456.2,280.4 L456.6,284.6 L457.1,288.8 L457.5,293.9 L458.0,293.0 L458.4,295.0 L458.9,296.3 L459.3,295.1 L459.8,294.7 L460.2,294.6 L460.7,296.4 L461.1,293.7 L461.6,294.6 L462.0,295.3 L462.5,295.6 L462.9,294.5 L463.4,295.3 L463.8,294.7 L464.3,295.0 L464.7,294.7 L465.2,293.7 L465.6,294.8 L466.1,295.6 L466.5,293.8 L467.0,294.5 L467.4,295.3 L467.9,293.6 L468.3,294.8 L468.8,293.5 L469.2,295.7 L469.7,296.6 L470.1,292.0 L470.6,287.2 L471.0,267.5 L471.5,267.6 L471.9,267.5 L472.4,273.0 L472.8,278.5 L473.3,279.6 L473.7,278.5 L474.2,280.0 L474.6,278.8 L475.1,278.0 L475.5,279.0 L476.0,279.5 L476.4,278.8 L476.9,279.3 L477.3,278.3 L477.8,276.7 L478.2,279.8 L478.7,279.6 L479.1,279.1 L479.6,279.0 L480.0,280.0 L480.5,278.6 L480.9,278.3 L481.4,278.9 L481.8,280.3 L482.3,277.7 L482.7,280.3 L483.2,278.5 L483.6,278.0 L484.1,280.4 L484.5,279.1 L485.0,277.9 L485.4,278.9 L485.9,280.2 L486.3,280.4 L486.8,278.8 L487.2,279.7 L487.7,280.0 L488.1,278.7 L488.6,279.7 L489.0,279.3 L489.5,278.8 L489.9,278.9 L490.4,279.5 L490.8,279.5 L491.3,278.9 L491.7,279.0 L492.2,280.6 L492.6,280.1 L493.1,282.5 L493.5,284.5 L494.0,285.6 L494.4,289.1 L494.9,287.7 L495.3,291.0 L495.8,291.0 L496.2,293.8 L496.7,294.3 L497.1,291.3 L497.6,292.9 L498.0,295.2 L498.5,295.3 L498.9,295.2 L499.4,294.4 L499.8,295.0 L500.3,295.2 L500.7,294.4 L501.2,295.5 L501.6,292.2 L502.1,295.1 L502.5,293.5 L503.0,295.5 L503.4,294.3 L503.9,293.6 L504.3,294.9 L504.8,293.6 L505.2,293.6 L505.7,292.9 L506.1,294.5 L506.6,295.0 L507.0,295.5 L507.5,293.5 L507.9,293.9 L508.4,292.0 L508.8,291.0 L509.3,290.3 L509.7,281.9 L510.2,269.8 L510.6,268.3 L511.1,268.3 L511.5,270.8 L512.0,275.9 L512.4,279.7 L512.9,278.3 L513.3,279.2 L513.8,277.9 L514.2,279.1 L514.7,279.1 L515.1,278.3 L515.6,280.8 L516.0,279.1 L516.5,280.5 L516.9,279.7 L517.4,278.1 L517.8,278.4 L518.3,279.2 L518.7,278.8 L519.2,278.8 L519.6,278.5 L520.1,277.0 L520.5,278.6 L521.0,276.6 L521.4,279.2 L521.9,278.1 L522.3,278.1 L522.8,278.6 L523.2,279.1 L523.7,277.4 L524.1,277.1 L524.6,277.8 L525.0,276.8 L525.5,277.9 L525.9,280.4 L526.4,277.8 L526.8,279.5 L527.3,277.5 L527.7,279.2 L528.2,278.6 L528.6,278.8 L529.1,279.5 L529.5,280.6 L530.0,279.1 L530.4,279.0 L530.9,277.9 L531.3,279.5 L531.8,278.7 L532.2,279.7 L532.7,278.9 L533.1,280.7 L533.6,276.9 L534.0,278.6 L534.5,279.8 L534.9,278.6 L535.4,278.2 L535.8,278.7 L536.3,277.6 L536.7,279.1 L537.2,281.4 L537.6,280.1 L538.1,277.9 L538.5,278.1 L539.0,278.6 L539.4,280.0 L539.9,278.2 L540.3,278.3 L540.8,279.9 L541.2,279.9 L541.7,278.6 L542.1,277.9 L542.6,277.5 L543.0,278.3 L543.5,276.8 L543.9,279.8 L544.4,278.4 L544.8,279.5 L545.3,280.9 L545.7,280.2 L546.2,277.9 L546.6,279.9 L547.1,280.2 L547.5,278.3 L548.0,278.1 L548.4,278.9 L548.9,277.4 L549.3,280.5 L549.8,276.6 L550.2,277.9 L550.7,278.8 L551.1,278.8 L551.6,279.2 L552.0,279.3 L552.5,278.8 L552.9,280.2 L553.4,276.9 L553.8,279.0 L554.3,278.3 L554.7,279.2 L555.2,279.3 L555.6,278.1 L556.1,278.4 L556.5,279.8 L557.0,279.4 L557.4,278.4 L557.9,281.1 L558.3,281.4 L558.8,277.6 L559.2,279.4 L559.7,281.6 L560.1,279.9 L560.6,279.3 L561.0,278.9 L561.5,278.5 L561.9,278.9 L562.4,278.5 L562.8,279.8 L563.3,278.7 L563.7,278.6 L564.2,277.9 L564.6,279.0 L565.1,278.2 L565.5,278.9 L566.0,280.1 L566.4,279.5 L566.9,279.6 L567.3,279.4 L567.8,279.2 L568.2,279.0 L568.7,278.8 L569.1,279.9 L569.6,278.0 L570.0,280.4 L570.5,279.1 L570.9,278.4 L571.4,278.6 L571.8,278.4 L572.3,279.3 L572.7,278.4 L573.2,280.3 L573.6,278.3 L574.1,276.8 L574.5,278.4 L575.0,277.1 L575.4,279.1 L575.9,280.2 L576.3,279.8 L576.8,277.8 L577.2,278.4 L577.7,280.9 L578.1,279.4 L578.6,279.1 L579.0,280.2 L579.5,281.6 L579.9,280.4 L580.4,279.3 L580.8,279.5 L581.3,279.8 L581.7,278.5 L582.2,278.1 L582.6,279.2 L583.1,278.2 L583.5,279.1 L584.0,279.2 L584.4,281.5 L584.9,278.3 L585.3,279.0 L585.8,279.0 L586.2,279.6 L586.7,280.2 L587.1,278.7 L587.6,278.3 L588.0,277.5 L588.5,278.2 L588.9,279.7 L589.4,279.2 L589.8,278.2 L590.3,278.8 L590.7,279.2 L591.2,279.7 L591.6,278.6 L592.1,278.9 L592.5,277.4 L593.0,278.0 L593.4,280.8 L593.9,277.0 L594.3,278.8 L594.8,279.4 L595.2,278.8 L595.7,278.4 L596.1,279.1 L596.6,279.2 L597.0,279.1 L597.5,277.3 L597.9,279.0 L598.4,278.3 L598.8,278.6 L599.3,279.4 L599.7,279.8 L600.2,280.1 L600.6,278.7 L601.1,280.1 L601.5,280.4 L602.0,280.3 L602.4,280.6 L602.9,279.1 L603.3,279.0 L603.8,280.0 L604.2,277.9 L604.7,279.4 L605.1,278.7 L605.6,278.9 L606.0,277.5 L606.5,278.3 L606.9,279.2 L607.4,280.1 L607.8,280.2 L608.3,279.2 L608.7,279.1 L609.2,278.4 L609.6,279.6 L610.1,279.0 L610.5,279.9 L611.0,281.0 L611.4,279.2 L611.9,277.8 L612.3,278.4 L612.8,277.8 L613.2,278.1 L613.7,280.6 L614.1,279.5 L614.6,277.8 L615.0,279.9 L615.5,280.5 L615.9,278.9 L616.4,278.6 L616.8,278.9 L617.3,279.6 L617.7,279.9 L618.2,280.5 L618.6,280.5 L619.1,280.5 L619.5,280.7 L620.0,280.0 L620.4,277.8 L620.9,279.2 L621.3,279.6 L621.8,278.9 L622.2,280.2 L622.7,279.0 L623.1,278.4 L623.6,280.8 L624.0,280.0 L624.5,279.5 L624.9,280.2 L625.4,280.4 L625.8,279.7 L626.3,276.9 L626.7,278.7 L627.2,278.9 L627.6,278.4 L628.1,279.5 L628.5,280.5 L629.0,278.9 L629.4,278.2 L629.9,281.4 L630.3,278.9 L630.8,278.1 L631.2,279.6 L631.7,279.8 L632.1,278.7 L632.6,280.1 L633.0,278.9 L633.5,278.4 L633.9,279.5 L634.4,280.1 L634.8,278.7 L635.3,279.7 L635.7,279.3 L636.2,282.2 L636.6,278.7 L637.1,280.8 L637.5,279.3 L638.0,279.3 L638.4,280.1 L638.9,280.3 L639.3,280.7 L639.8,279.7 L640.2,278.8 L640.7,278.9 L641.1,280.4 L641.6,282.6 L642.0,285.6 L642.5,286.7 L642.9,289.4 L643.4,291.6 L643.8,292.0 L644.3,292.1 L644.7,293.4 L645.2,293.2 L645.6,296.4 L646.1,294.1 L646.5,296.3 L647.0,295.8 L647.4,297.0 L647.9,296.4 L648.3,295.4 L648.8,295.5 L649.2,295.9 L649.7,296.1 L650.1,295.5 L650.6,295.9 L651.0,297.4 L651.5,294.0 L651.9,295.9 L652.4,294.7 L652.8,295.7 L653.3,296.3 L653.7,295.3 L654.2,296.1 L654.6,293.6 L655.1,296.2 L655.5,294.4 L656.0,294.9 L656.4,292.5 L656.9,290.2 L657.3,276.3 L657.8,269.5 L658.2,271.1 L658.7,269.8 L659.1,271.1 L659.6,271.0 L660.0,275.4 L660.5,276.7 L660.9,275.8 L661.4,276.5 L661.8,276.0 L662.3,280.1 L662.7,284.3 L663.2,281.9 L663.6,283.9 L664.1,283.7 L664.5,282.0 L665.0,287.3 L665.4,284.9 L665.9,289.1 L666.3,292.3 L666.8,295.8 L667.2,297.1 L667.7,299.1 L668.1,299.0 L668.6,300.1 L669.0,303.7 L669.5,302.4 L669.9,301.5 L670.4,301.7 L670.8,303.2 L671.3,300.9 L671.7,302.0 L672.2,301.0 L672.6,302.7 L673.1,301.4 L673.5,302.7 L674.0,295.2 L674.4,296.4 L674.9,298.9 L675.3,296.6 L675.8,296.1 L676.2,299.6 L676.7,296.0 L677.1,294.7 L677.6,294.5 L678.0,297.5 L678.5,297.6 L678.9,294.7 L679.4,295.5 L679.8,298.3 L680.3,298.5 L680.7,296.7 L681.2,299.8 L681.6,300.5 L682.1,297.1 L682.5,300.5 L683.0,302.7 L683.4,301.6 L683.9,299.6 L684.3,303.7 L684.8,306.3 L685.2,308.5 L685.7,302.5 L686.1,311.9 L686.6,305.8 L687.0,310.2 L687.5,311.4 L687.9,311.6 L688.4,310.8 L688.8,309.1 L689.3,312.9 L689.7,310.9 L690.2,308.1 L690.2,316.5 L689.7,317.4 L689.3,319.8 L688.8,319.1 L688.4,319.8 L687.9,320.8 L687.5,320.6 L687.0,321.1 L686.6,322.0 L686.1,324.2 L685.7,322.0 L685.2,324.3 L684.8,324.5 L684.3,324.6 L683.9,323.2 L683.4,325.8 L683.0,324.4 L682.5,323.7 L682.1,324.7 L681.6,325.6 L681.2,324.8 L680.7,325.6 L680.3,325.5 L679.8,324.7 L679.4,324.6 L678.9,325.5 L678.5,325.2 L678.0,325.0 L677.6,325.5 L677.1,324.0 L676.7,325.1 L676.2,326.3 L675.8,326.4 L675.3,326.7 L674.9,326.6 L674.4,326.1 L674.0,325.9 L673.5,325.4 L673.1,325.1 L672.6,326.0 L672.2,326.7 L671.7,327.2 L671.3,328.0 L670.8,326.4 L670.4,326.7 L669.9,328.5 L669.5,326.7 L669.0,326.2 L668.6,327.0 L668.1,327.9 L667.7,326.3 L667.2,326.1 L666.8,326.8 L666.3,327.4 L665.9,328.3 L665.4,329.4 L665.0,326.4 L664.5,328.7 L664.1,328.6 L663.6,328.5 L663.2,327.7 L662.7,329.6 L662.3,327.5 L661.8,329.4 L661.4,329.1 L660.9,327.8 L660.5,327.7 L660.0,329.2 L659.6,327.5 L659.1,330.1 L658.7,327.7 L658.2,329.8 L657.8,327.0 L657.3,328.2 L656.9,326.8 L656.4,327.0 L656.0,327.5 L655.5,326.3 L655.1,327.9 L654.6,326.6 L654.2,327.0 L653.7,327.5 L653.3,326.0 L652.8,324.9 L652.4,326.8 L651.9,325.4 L651.5,326.1 L651.0,327.3 L650.6,328.4 L650.1,325.1 L649.7,327.1 L649.2,326.3 L648.8,327.6 L648.3,327.7 L647.9,326.9 L647.4,327.4 L647.0,325.9 L646.5,325.9 L646.1,326.4 L645.6,327.3 L645.2,327.1 L644.7,326.9 L644.3,327.6 L643.8,327.4 L643.4,327.9 L642.9,327.9 L642.5,329.6 L642.0,329.8 L641.6,332.2 L641.1,330.3 L640.7,329.3 L640.2,330.1 L639.8,328.9 L639.3,328.5 L638.9,330.0 L638.4,328.1 L638.0,330.2 L637.5,330.5 L637.1,330.4 L636.6,329.5 L636.2,329.1 L635.7,331.6 L635.3,330.0 L634.8,328.5 L634.4,330.3 L633.9,330.0 L633.5,330.5 L633.0,329.9 L632.6,330.0 L632.1,330.2 L631.7,331.0 L631.2,329.0 L630.8,329.7 L630.3,329.8 L629.9,330.0 L629.4,330.9 L629.0,330.8 L628.5,328.3 L628.1,328.6 L627.6,330.7 L627.2,329.8 L626.7,331.2 L626.3,330.1 L625.8,330.2 L625.4,329.8 L624.9,331.9 L624.5,328.2 L624.0,328.8 L623.6,330.3 L623.1,328.8 L622.7,330.1 L622.2,331.4 L621.8,329.9 L621.3,329.8 L620.9,328.2 L620.4,328.5 L620.0,330.5 L619.5,329.8 L619.1,329.9 L618.6,329.5 L618.2,328.3 L617.7,329.9 L617.3,329.2 L616.8,329.6 L616.4,329.7 L615.9,328.5 L615.5,329.4 L615.0,329.6 L614.6,328.4 L614.1,330.3 L613.7,329.6 L613.2,329.9 L612.8,329.0 L612.3,329.8 L611.9,330.5 L611.4,330.4 L611.0,328.5 L610.5,328.9 L610.1,330.2 L609.6,329.6 L609.2,329.2 L608.7,328.4 L608.3,330.1 L607.8,330.0 L607.4,329.7 L606.9,328.1 L606.5,331.1 L606.0,328.5 L605.6,328.1 L605.1,329.1 L604.7,329.9 L604.2,328.7 L603.8,329.3 L603.3,329.8 L602.9,328.3 L602.4,329.8 L602.0,330.4 L601.5,329.2 L601.1,328.8 L600.6,330.3 L600.2,329.4 L599.7,331.0 L599.3,330.4 L598.8,330.2 L598.4,330.2 L597.9,330.4 L597.5,326.8 L597.0,329.2 L596.6,329.1 L596.1,330.6 L595.7,328.4 L595.2,329.7 L594.8,331.6 L594.3,329.7 L593.9,330.2 L593.4,329.8 L593.0,329.4 L592.5,330.9 L592.1,329.2 L591.6,330.8 L591.2,330.8 L590.7,329.3 L590.3,329.0 L589.8,328.8 L589.4,329.6 L588.9,329.2 L588.5,329.2 L588.0,330.5 L587.6,328.9 L587.1,330.1 L586.7,330.3 L586.2,328.7 L585.8,329.3 L585.3,330.1 L584.9,328.7 L584.4,329.5 L584.0,328.2 L583.5,329.4 L583.1,329.8 L582.6,330.4 L582.2,328.6 L581.7,329.6 L581.3,328.4 L580.8,330.0 L580.4,329.9 L579.9,329.0 L579.5,330.4 L579.0,329.5 L578.6,328.9 L578.1,329.0 L577.7,328.2 L577.2,328.0 L576.8,329.7 L576.3,328.9 L575.9,329.1 L575.4,331.2 L575.0,327.8 L574.5,328.9 L574.1,330.0 L573.6,328.9 L573.2,329.9 L572.7,330.4 L572.3,329.2 L571.8,329.8 L571.4,331.5 L570.9,328.9 L570.5,330.4 L570.0,327.7 L569.6,330.9 L569.1,329.8 L568.7,327.4 L568.2,329.0 L567.8,329.1 L567.3,329.4 L566.9,327.3 L566.4,328.4 L566.0,331.1 L565.5,329.0 L565.1,329.9 L564.6,328.0 L564.2,329.8 L563.7,331.3 L563.3,328.6 L562.8,329.2 L562.4,328.3 L561.9,329.5 L561.5,330.6 L561.0,327.5 L560.6,329.3 L560.1,330.5 L559.7,329.5 L559.2,330.1 L558.8,329.7 L558.3,330.2 L557.9,330.3 L557.4,329.8 L557.0,329.4 L556.5,329.5 L556.1,329.8 L555.6,330.3 L555.2,328.9 L554.7,330.0 L554.3,329.3 L553.8,329.3 L553.4,329.3 L552.9,330.2 L552.5,328.8 L552.0,329.4 L551.6,328.8 L551.1,328.6 L550.7,327.6 L550.2,329.7 L549.8,329.3 L549.3,329.8 L548.9,328.4 L548.4,328.0 L548.0,329.2 L547.5,328.6 L547.1,328.6 L546.6,328.8 L546.2,328.7 L545.7,330.1 L545.3,329.7 L544.8,329.7 L544.4,330.2 L543.9,328.2 L543.5,331.0 L543.0,330.8 L542.6,329.4 L542.1,330.1 L541.7,329.9 L541.2,327.8 L540.8,329.3 L540.3,329.3 L539.9,327.5 L539.4,328.7 L539.0,327.4 L538.5,328.6 L538.1,329.5 L537.6,329.6 L537.2,329.4 L536.7,329.5 L536.3,329.2 L535.8,330.2 L535.4,330.8 L534.9,330.2 L534.5,330.3 L534.0,329.5 L533.6,329.9 L533.1,331.0 L532.7,330.0 L532.2,329.1 L531.8,328.0 L531.3,329.2 L530.9,328.8 L530.4,329.4 L530.0,329.1 L529.5,328.6 L529.1,329.0 L528.6,330.5 L528.2,328.6 L527.7,329.4 L527.3,326.9 L526.8,329.6 L526.4,329.5 L525.9,329.0 L525.5,331.5 L525.0,329.7 L524.6,328.5 L524.1,329.0 L523.7,329.5 L523.2,329.4 L522.8,328.3 L522.3,328.8 L521.9,329.3 L521.4,329.8 L521.0,329.2 L520.5,328.6 L520.1,329.5 L519.6,328.8 L519.2,329.6 L518.7,329.0 L518.3,329.9 L517.8,328.2 L517.4,328.5 L516.9,328.8 L516.5,328.4 L516.0,327.7 L515.6,329.6 L515.1,329.8 L514.7,328.3 L514.2,330.0 L513.8,327.9 L513.3,328.9 L512.9,329.5 L512.4,329.0 L512.0,329.9 L511.5,328.6 L511.1,328.7 L510.6,328.4 L510.2,328.7 L509.7,329.1 L509.3,327.8 L508.8,328.5 L508.4,327.6 L507.9,327.7 L507.5,327.3 L507.0,327.5 L506.6,326.1 L506.1,327.8 L505.7,328.2 L505.2,328.4 L504.8,325.6 L504.3,326.3 L503.9,325.6 L503.4,327.8 L503.0,327.0 L502.5,326.5 L502.1,326.7 L501.6,326.8 L501.2,327.2 L500.7,326.3 L500.3,326.0 L499.8,323.5 L499.4,325.9 L498.9,326.3 L498.5,327.7 L498.0,329.5 L497.6,328.1 L497.1,328.0 L496.7,326.0 L496.2,327.3 L495.8,326.5 L495.3,326.9 L494.9,328.0 L494.4,328.7 L494.0,328.9 L493.5,327.6 L493.1,327.7 L492.6,328.8 L492.2,329.5 L491.7,329.4 L491.3,331.1 L490.8,328.6 L490.4,329.5 L489.9,330.0 L489.5,330.3 L489.0,328.7 L488.6,328.7 L488.1,330.5 L487.7,328.3 L487.2,328.4 L486.8,329.2 L486.3,329.7 L485.9,329.4 L485.4,328.8 L485.0,329.1 L484.5,328.8 L484.1,329.9 L483.6,329.0 L483.2,330.1 L482.7,328.2 L482.3,328.5 L481.8,328.5 L481.4,328.9 L480.9,328.8 L480.5,328.6 L480.0,329.2 L479.6,330.0 L479.1,329.2 L478.7,327.3 L478.2,329.1 L477.8,325.7 L477.3,328.5 L476.9,329.0 L476.4,329.2 L476.0,329.2 L475.5,328.3 L475.1,328.7 L474.6,328.3 L474.2,328.8 L473.7,329.9 L473.3,328.0 L472.8,329.2 L472.4,327.8 L471.9,329.0 L471.5,329.1 L471.0,326.7 L470.6,327.7 L470.1,328.0 L469.7,326.8 L469.2,326.7 L468.8,327.2 L468.3,326.6 L467.9,326.5 L467.4,325.2 L467.0,327.8 L466.5,327.1 L466.1,327.1 L465.6,326.0 L465.2,325.6 L464.7,326.1 L464.3,326.5 L463.8,326.2 L463.4,326.5 L462.9,327.5 L462.5,326.5 L462.0,327.1 L461.6,325.9 L461.1,326.7 L460.7,327.2 L460.2,326.3 L459.8,326.3 L459.3,327.8 L458.9,327.6 L458.4,327.5 L458.0,329.2 L457.5,328.9 L457.1,330.3 L456.6,330.0 L456.2,328.1 L455.7,327.6 L455.3,328.1 L454.8,328.8 L454.4,329.1 L453.9,328.3 L453.5,328.7 L453.0,330.1 L452.6,328.0 L452.1,330.4 L451.7,329.7 L451.2,329.6 L450.8,329.1 L450.3,330.3 L449.9,330.3 L449.4,328.2 L449.0,329.9 L448.5,328.6 L448.1,328.3 L447.6,329.3 L447.2,330.9 L446.7,330.1 L446.3,328.3 L445.8,328.0 L445.4,327.9 L444.9,330.7 L444.5,328.3 L444.0,328.3 L443.6,329.1 L443.1,328.8 L442.7,327.3 L442.2,328.9 L441.8,328.2 L441.3,329.8 L440.9,328.4 L440.4,328.2 L440.0,328.9 L439.5,327.7 L439.1,329.9 L438.6,329.8 L438.2,331.0 L437.7,330.3 L437.3,327.1 L436.8,329.6 L436.4,329.3 L435.9,329.1 L435.5,329.7 L435.0,329.1 L434.6,328.4 L434.1,329.2 L433.7,329.3 L433.2,327.2 L432.8,330.7 L432.3,328.3 L431.9,328.7 L431.4,328.7 L431.0,328.0 L430.5,329.2 L430.1,329.8 L429.6,328.0 L429.2,331.3 L428.7,329.4 L428.3,327.7 L427.8,327.7 L427.4,327.9 L426.9,328.0 L426.5,329.7 L426.0,328.2 L425.6,328.6 L425.1,328.3 L424.7,330.2 L424.2,329.0 L423.8,328.4 L423.3,329.0 L422.9,328.2 L422.4,329.6 L422.0,327.4 L421.5,327.7 L421.1,327.5 L420.6,328.6 L420.2,329.5 L419.7,330.6 L419.3,329.1 L418.8,328.1 L418.4,328.7 L417.9,327.6 L417.5,328.8 L417.0,328.9 L416.6,328.4 L416.1,327.9 L415.7,328.2 L415.2,328.3 L414.8,328.7 L414.3,329.2 L413.9,330.2 L413.4,327.6 L413.0,329.3 L412.5,328.3 L412.1,328.6 L411.6,327.2 L411.2,328.0 L410.7,328.6 L410.3,328.7 L409.8,330.1 L409.4,327.2 L408.9,330.5 L408.5,329.4 L408.0,329.7 L407.6,329.3 L407.1,330.3 L406.7,329.3 L406.2,329.4 L405.8,329.4 L405.3,329.3 L404.9,327.7 L404.4,329.9 L404.0,328.8 L403.5,328.5 L403.1,328.3 L402.6,328.0 L402.2,329.5 L401.7,329.9 L401.3,329.1 L400.8,328.0 L400.4,330.3 L399.9,328.0 L399.5,330.0 L399.0,329.5 L398.6,329.2 L398.1,328.6 L397.7,328.9 L397.2,328.4 L396.8,331.1 L396.3,329.8 L395.9,327.6 L395.4,328.9 L395.0,326.3 L394.5,329.5 L394.1,329.9 L393.6,328.5 L393.2,329.0 L392.7,329.5 L392.3,327.4 L391.8,329.1 L391.4,328.4 L390.9,329.7 L390.5,329.1 L390.0,329.5 L389.6,329.3 L389.1,328.6 L388.7,328.2 L388.2,328.8 L387.8,329.7 L387.3,329.9 L386.9,327.6 L386.4,329.9 L386.0,328.0 L385.5,328.9 L385.1,328.9 L384.6,328.6 L384.2,329.3 L383.7,329.8 L383.3,328.8 L382.8,330.3 L382.4,329.4 L381.9,328.8 L381.5,328.5 L381.0,330.6 L380.6,328.7 L380.1,328.7 L379.7,326.8 L379.2,328.2 L378.8,330.7 L378.3,327.7 L377.9,329.3 L377.4,328.3 L377.0,330.6 L376.5,329.1 L376.1,329.8 L375.6,328.6 L375.2,328.0 L374.7,330.4 L374.3,329.8 L373.8,327.8 L373.4,328.5 L372.9,329.4 L372.5,330.2 L372.0,327.6 L371.6,330.5 L371.1,327.6 L370.7,327.9 L370.2,328.2 L369.8,328.8 L369.3,328.9 L368.9,327.2 L368.4,328.9 L368.0,327.7 L367.5,328.1 L367.1,328.5 L366.6,328.8 L366.2,328.2 L365.7,330.0 L365.3,329.0 L364.8,328.1 L364.4,327.0 L363.9,327.9 L363.5,327.1 L363.0,329.5 L362.6,327.7 L362.1,328.9 L361.7,327.8 L361.2,327.7 L360.8,327.9 L360.3,327.9 L359.9,328.5 L359.4,326.6 L359.0,326.4 L358.5,327.2 L358.1,326.1 L357.6,325.8 L357.2,326.8 L356.7,325.9 L356.3,326.7 L355.8,328.4 L355.4,326.0 L354.9,326.6 L354.5,327.2 L354.0,324.5 L353.6,326.1 L353.1,327.1 L352.7,325.7 L352.2,325.9 L351.8,328.2 L351.3,328.0 L350.9,325.9 L350.4,327.7 L350.0,327.4 L349.5,327.4 L349.1,327.1 L348.6,328.9 L348.2,328.2 L347.7,329.6 L347.3,329.0 L346.8,327.4 L346.4,326.8 L345.9,328.8 L345.5,329.7 L345.0,330.0 L344.6,327.8 L344.1,329.0 L343.7,328.5 L343.2,329.4 L342.8,328.7 L342.3,327.3 L341.9,329.4 L341.4,328.1 L341.0,327.5 L340.5,328.3 L340.1,328.3 L339.6,329.5 L339.2,328.0 L338.7,328.6 L338.3,329.1 L337.8,328.4 L337.4,328.0 L336.9,327.6 L336.5,328.9 L336.0,328.2 L335.6,326.9 L335.1,328.9 L334.7,331.2 L334.2,328.9 L333.8,329.0 L333.3,327.6 L332.9,328.7 L332.4,328.3 L332.0,330.0 L331.5,330.4 L331.1,329.2 L330.6,329.4 L330.2,328.8 L329.7,327.8 L329.3,329.3 L328.8,330.3 L328.4,328.0 L327.9,328.8 L327.5,328.4 L327.0,329.5 L326.6,329.3 L326.1,328.7 L325.7,328.1 L325.2,329.6 L324.8,327.7 L324.3,327.6 L323.9,328.8 L323.4,327.3 L323.0,328.3 L322.5,328.2 L322.1,327.7 L321.6,328.1 L321.2,330.0 L320.7,330.1 L320.3,328.0 L319.8,327.7 L319.4,329.8 L318.9,329.6 L318.5,328.6 L318.0,329.0 L317.6,329.3 L317.1,327.3 L316.7,328.5 L316.2,329.0 L315.8,328.6 L315.3,328.8 L314.9,329.3 L314.4,327.8 L314.0,328.6 L313.5,327.8 L313.1,329.1 L312.6,328.3 L312.2,328.6 L311.7,327.0 L311.3,330.1 L310.8,329.2 L310.4,328.0 L309.9,328.3 L309.5,328.1 L309.0,328.4 L308.6,328.6 L308.1,328.8 L307.7,327.4 L307.2,328.4 L306.8,327.7 L306.3,329.8 L305.9,329.5 L305.4,328.6 L305.0,328.4 L304.5,330.3 L304.1,327.8 L303.6,329.3 L303.2,327.9 L302.7,330.6 L302.3,328.7 L301.8,329.9 L301.4,328.9 L300.9,328.9 L300.5,328.6 L300.0,329.0 L299.6,330.6 L299.1,328.6 L298.7,329.1 L298.2,329.9 L297.8,330.5 L297.3,328.1 L296.9,328.5 L296.4,328.1 L296.0,328.6 L295.5,328.2 L295.1,327.8 L294.6,329.0 L294.2,328.4 L293.7,328.5 L293.3,328.8 L292.8,329.6 L292.4,328.6 L291.9,328.6 L291.5,328.6 L291.0,328.4 L290.6,329.4 L290.1,328.2 L289.7,329.9 L289.2,329.5 L288.8,328.9 L288.3,330.0 L287.9,327.4 L287.4,328.2 L287.0,329.1 L286.5,329.2 L286.1,326.5 L285.6,328.4 L285.2,328.6 L284.7,327.7 L284.3,328.9 L283.8,329.2 L283.4,328.0 L282.9,330.2 L282.5,329.2 L282.0,328.9 L281.6,327.7 L281.1,329.5 L280.7,328.8 L280.2,330.5 L279.8,328.3 L279.3,328.0 L278.9,327.5 L278.4,328.3 L278.0,330.4 L277.5,328.3 L277.1,328.3 L276.6,329.2 L276.2,328.1 L275.7,329.6 L275.3,327.5 L274.8,328.7 L274.4,328.0 L273.9,327.9 L273.5,327.9 L273.0,327.9 L272.6,328.0 L272.1,328.0 L271.7,328.2 L271.2,327.1 L270.8,328.1 L270.3,327.3 L269.9,327.9 L269.4,326.0 L269.0,326.6 L268.5,328.3 L268.1,327.7 L267.6,327.7 L267.2,326.8 L266.7,325.8 L266.3,326.9 L265.8,325.6 L265.4,325.5 L264.9,326.2 L264.5,326.7 L264.0,327.4 L263.6,325.9 L263.1,327.3 L262.7,326.9 L262.2,326.8 L261.8,326.8 L261.3,325.5 L260.9,327.9 L260.4,326.6 L260.0,327.5 L259.5,327.8 L259.1,327.1 L258.6,327.3 L258.2,329.0 L257.7,329.0 L257.3,327.0 L256.8,328.9 L256.4,327.6 L255.9,328.7 L255.5,330.5 L255.0,328.7 L254.6,328.9 L254.1,330.3 L253.7,328.3 L253.2,327.9 L252.8,329.6 L252.3,327.9 L251.9,329.5 L251.4,328.2 L251.0,329.9 L250.5,328.8 L250.1,328.8 L249.6,327.8 L249.2,330.3 L248.7,327.2 L248.3,328.6 L247.8,329.2 L247.4,327.7 L246.9,327.6 L246.5,329.3 L246.0,326.6 L245.6,329.0 L245.1,328.3 L244.7,327.6 L244.2,327.4 L243.8,327.4 L243.3,328.4 L242.9,328.0 L242.4,329.6 L242.0,326.7 L241.5,327.7 L241.1,329.5 L240.6,327.8 L240.2,328.2 L239.7,329.6 L239.3,329.1 L238.8,329.5 L238.4,329.0 L237.9,327.3 L237.5,329.3 L237.0,329.7 L236.6,328.8 L236.1,328.9 L235.7,328.0 L235.2,328.3 L234.8,327.7 L234.3,328.8 L233.9,329.6 L233.4,328.0 L233.0,328.2 L232.5,329.9 L232.1,329.0 L231.6,327.6 L231.2,329.1 L230.7,330.3 L230.3,329.4 L229.8,328.1 L229.4,328.8 L228.9,330.7 L228.5,328.1 L228.0,329.6 L227.6,327.4 L227.1,327.5 L226.7,328.6 L226.2,327.9 L225.8,329.7 L225.3,329.4 L224.9,329.7 L224.4,329.8 L224.0,327.2 L223.5,328.1 L223.1,330.3 L222.6,329.8 L222.2,327.8 L221.7,328.5 L221.3,328.1 L220.8,328.0 L220.4,330.7 L219.9,328.2 L219.5,327.9 L219.0,329.5 L218.6,328.5 L218.1,329.4 L217.7,327.1 L217.2,329.5 L216.8,328.1 L216.3,329.3 L215.9,326.6 L215.4,328.8 L215.0,328.1 L214.5,329.3 L214.1,328.7 L213.6,326.8 L213.2,329.0 L212.7,329.1 L212.3,329.3 L211.8,327.6 L211.4,329.5 L210.9,328.5 L210.5,327.9 L210.0,328.8 L209.6,328.9 L209.1,330.1 L208.7,328.7 L208.2,329.9 L207.8,329.9 L207.3,328.9 L206.9,329.7 L206.4,329.1 L206.0,329.7 L205.5,329.1 L205.1,328.1 L204.6,328.3 L204.2,329.9 L203.7,327.0 L203.3,329.2 L202.8,328.0 L202.4,328.1 L201.9,327.9 L201.5,329.3 L201.0,329.3 L200.6,328.8 L200.1,327.9 L199.7,327.6 L199.2,327.8 L198.8,328.4 L198.3,328.2 L197.9,327.5 L197.4,329.3 L197.0,326.9 L196.5,328.9 L196.1,328.4 L195.6,328.5 L195.2,328.5 L194.7,327.7 L194.3,327.3 L193.8,327.5 L193.4,329.5 L192.9,328.4 L192.5,329.6 L192.0,330.2 L191.6,327.9 L191.1,329.9 L190.7,328.8 L190.2,328.1 L189.8,328.3 L189.3,328.5 L188.9,329.0 L188.4,329.1 L188.0,328.0 L187.5,327.7 L187.1,329.2 L186.6,328.7 L186.2,328.6 L185.7,328.5 L185.3,328.5 L184.8,329.7 L184.4,326.9 L183.9,328.7 L183.5,328.8 L183.0,328.8 L182.6,327.6 L182.1,329.4 L181.7,329.1 L181.2,330.2 L180.8,329.1 L180.3,330.8 L179.9,329.1 L179.4,329.5 L179.0,328.8 L178.5,328.4 L178.1,328.4 L177.6,328.5 L177.2,330.9 L176.7,328.4 L176.3,328.2 L175.8,328.0 L175.4,329.1 L174.9,328.5 L174.5,330.0 L174.0,328.7 L173.6,328.2 L173.1,329.7 L172.7,329.2 L172.2,328.1 L171.8,328.9 L171.3,328.4 L170.9,329.2 L170.4,330.5 L170.0,329.1 L169.5,328.3 L169.1,329.3 L168.6,329.1 L168.2,328.1 L167.7,329.2 L167.3,328.2 L166.8,328.2 L166.4,328.0 L165.9,328.0 L165.5,328.2 L165.0,326.9 L164.6,329.9 L164.1,329.2 L163.7,328.7 L163.2,328.6 L162.8,330.0 L162.3,328.5 L161.9,328.4 L161.4,330.2 L161.0,328.8 L160.5,327.9 L160.1,329.6 L159.6,328.0 L159.2,329.1 L158.7,329.0 L158.3,328.7 L157.8,327.5 L157.4,328.6 L156.9,328.8 L156.5,328.9 L156.0,327.2 L155.6,328.9 L155.1,329.1 L154.7,328.2 L154.2,329.4 L153.8,329.7 L153.3,328.7 L152.9,329.7 L152.4,331.0 L152.0,329.1 L151.5,329.6 L151.1,330.2 L150.6,329.4 L150.2,328.6 L149.7,329.8 L149.3,327.8 L148.8,327.5 L148.4,329.1 L147.9,328.4 L147.5,328.9 L147.0,329.7 L146.6,329.7 L146.1,328.6 L145.7,328.0 L145.2,329.1 L144.8,330.9 L144.3,328.5 L143.9,329.0 L143.4,329.1 L143.0,329.1 L142.5,330.0 L142.1,330.2 L141.6,329.0 L141.2,328.3 L140.7,329.4 L140.3,330.5 L139.8,329.2 L139.4,330.4 L138.9,328.1 L138.5,328.1 L138.0,330.5 L137.6,328.7 L137.1,328.1 L136.7,329.1 L136.2,326.7 L135.8,329.0 L135.3,329.7 L134.9,328.0 L134.4,329.9 L134.0,328.3 L133.5,330.6 L133.1,328.7 L132.6,329.2 L132.2,328.7 L131.7,329.0 L131.3,330.5 L130.8,329.3 L130.4,328.0 L129.9,330.4 L129.5,329.0 L129.0,329.5 L128.6,330.1 L128.1,327.4 L127.7,331.8 L127.2,329.8 L126.8,327.6 L126.3,329.5 L125.9,329.7 L125.4,329.1 L125.0,328.8 L124.5,329.8 L124.1,330.2 L123.6,331.0 L123.2,327.9 L122.7,329.6 L122.3,329.3 L121.8,329.1 L121.4,328.6 L120.9,328.6 L120.5,328.4 L120.0,329.6 L119.6,328.6 L119.1,330.3 L118.7,329.9 L118.2,329.6 L117.8,330.8 L117.3,330.4 L116.9,328.3 L116.4,331.8 L116.0,330.1 L115.5,329.3 L115.1,330.9 L114.6,330.4 L114.2,331.3 L113.7,330.2 L113.3,331.3 L112.8,328.8 L112.4,329.8 L111.9,329.7 L111.5,331.1 L111.0,330.4 L110.6,330.7 L110.1,330.5 L109.7,330.9 L109.2,331.3 L108.8,332.3 L108.3,332.7 L107.9,334.5 L107.4,337.7 L107.0,335.3 L106.5,333.8 L106.1,334.7 L105.6,333.0 L105.2,333.8 L104.7,336.1 L104.3,336.6 L103.8,334.7 L103.4,334.8 L102.9,335.1 L102.5,334.1 L102.0,335.7 L101.6,336.8 L101.1,334.5 L100.7,338.2 L100.2,334.1 L99.8,333.1 L99.3,336.6 L98.9,335.0 L98.4,340.0 L98.0,336.3 L97.5,338.1 L97.1,336.5 L96.6,336.9 L96.2,335.0 L95.7,333.7 L95.3,336.2 L94.8,335.7 L94.4,336.3 L93.9,334.4 L93.5,338.6 L93.0,340.3 L92.6,331.5 L92.1,334.9 L91.7,338.4 L91.2,333.4 L90.8,338.2 L90.3,335.2 L89.9,337.0 L89.4,338.3 L89.0,336.7 L88.5,333.9 L88.1,334.0 L87.6,333.0 L87.2,335.9 L86.7,335.3 L86.3,333.5 L85.8,334.7 L85.4,333.3 L84.9,333.9 L84.5,332.5 L84.0,333.4 L83.6,332.9 L83.1,333.7 L82.7,333.2 L82.2,332.9 L81.8,333.0 L81.3,331.6 L80.9,332.1 L80.4,330.5 L80.0,331.1 L79.5,332.4 L79.1,331.2 L78.6,328.4 L78.2,328.1 L77.7,328.0 L77.3,328.8 L76.8,327.7 L76.4,329.6 L75.9,328.1 L75.5,326.5 L75.0,327.2 L74.6,326.2 L74.1,327.9 L73.7,326.6 L73.2,326.0 L72.8,327.6 L72.3,326.3 L71.9,327.4 L71.4,327.8 L71.0,325.8 L70.5,325.5 L70.1,324.6 L69.6,325.5 L69.2,323.8 L68.7,323.3 L68.3,325.0 L67.8,324.1 L67.4,325.0 L66.9,326.2 L66.5,325.6 L66.0,324.8 L65.6,322.0 L65.1,323.8 L64.7,320.0 L64.2,318.5Z" fill="#2b4ea2" stroke="#2b4ea2" stroke-width="0.5" stroke-linejoin="round"/>
<rect x="64.2" y="258.8" width="626.6" height="80.6" fill="none" stroke="#757575" stroke-width="1.8"/>
<path d="M138.9,258.8 v5 M138.9,339.4 v-5 M219.5,258.8 v5 M219.5,339.4 v-5 M300.6,258.8 v5 M300.6,339.4 v-5 M382,258.8 v5 M382,339.4 v-5 M463.5,258.8 v5 M463.5,339.4 v-5 M544,258.8 v5 M544,339.4 v-5 M625,258.8 v5 M625,339.4 v-5 M64.2,264.1 h5.5 M690.8,264.1 h-5.5 M64.2,281.2 h5.5 M690.8,281.2 h-5.5 M64.2,298.3 h5.5 M690.8,298.3 h-5.5 M64.2,315.4 h5.5 M690.8,315.4 h-5.5 M64.2,332.5 h5.5 M690.8,332.5 h-5.5 " stroke="#6c6c6c" stroke-width="1.9" fill="none"/>
<ellipse cx="269.7" cy="310.5" rx="25.6" ry="24.7" fill="none" stroke="#b3191d" stroke-width="2.3"/>
<ellipse cx="357" cy="310.5" rx="25.6" ry="24.7" fill="none" stroke="#b3191d" stroke-width="2.3"/>
<ellipse cx="459.6" cy="310.5" rx="25.2" ry="24.7" fill="none" stroke="#b3191d" stroke-width="2.3"/>
<ellipse cx="502.2" cy="310.5" rx="25.6" ry="24.7" fill="none" stroke="#b3191d" stroke-width="2.3"/>
<ellipse cx="645.3" cy="310.5" rx="25.6" ry="24.7" fill="none" stroke="#b3191d" stroke-width="2.3"/>
<path d="M45,224.6 L113.8,248.6 L113.9,339.3" fill="none" stroke="#b51e21" stroke-width="3.2" stroke-linejoin="miter"/>
<path d="M221.6,225.3 L123.5,249.2 L123.7,339.3" fill="none" stroke="#b51e21" stroke-width="3.2" stroke-linejoin="miter"/>
<path d="M265.4,223.5 L228.6,250.6 L228.4,339.3" fill="none" stroke="#b51e21" stroke-width="3.2" stroke-linejoin="miter"/>
<path d="M457.8,225.8 L239.0,251.3 L238.6,339.3" fill="none" stroke="#b51e21" stroke-width="3.2" stroke-linejoin="miter"/>
<path d="M523.3,216.4 L412,250.4 L411.7,339.3" fill="none" stroke="#b51e21" stroke-width="3.2" stroke-linejoin="miter"/>
<path d="M702,235.6 L426.7,256.8 L426.5,339.3" fill="none" stroke="#b51e21" stroke-width="3.2" stroke-linejoin="miter"/>
<text x="70.6" y="17.7" font-size="22" textLength="117.5" lengthAdjust="spacingAndGlyphs">asymmetric</text>
<text x="64.9" y="49.5" font-size="22" textLength="129.2" lengthAdjust="spacingAndGlyphs">double-wave</text>
<text x="317.2" y="18.2" font-size="22" textLength="105.4" lengthAdjust="spacingAndGlyphs">symmetric</text>
<text x="305.0" y="50.0" font-size="22" textLength="129.3" lengthAdjust="spacingAndGlyphs">double-wave</text>
<text x="541.9" y="40.1" font-size="22" textLength="120.7" lengthAdjust="spacingAndGlyphs">single-wave</text>
<text transform="translate(19,159.0) rotate(-90)" font-size="22" textLength="68.9" lengthAdjust="spacingAndGlyphs"><tspan font-style="italic">p</tspan> / bar</text>
<text transform="translate(256.4,156.3) rotate(-90)" font-size="22" textLength="66.8" lengthAdjust="spacingAndGlyphs"><tspan font-style="italic">p</tspan> / bar</text>
<text transform="translate(489.2,160.5) rotate(-90)" font-size="22" textLength="66.6" lengthAdjust="spacingAndGlyphs"><tspan font-style="italic">p</tspan> / bar</text>
<text transform="translate(18.6,335.5) rotate(-90)" font-size="22" textLength="67.9" lengthAdjust="spacingAndGlyphs"><tspan font-style="italic">p</tspan> / bar</text>
<text x="36.8" y="105.1" font-size="26" text-anchor="middle">1</text>
<text x="36.5" y="157.8" font-size="26" text-anchor="middle">0</text>
<text x="270.3" y="95.2" font-size="26" text-anchor="middle">1</text>
<text x="270.2" y="154.8" font-size="26" text-anchor="middle">0</text>
<text x="508.2" y="89.6" font-size="26" text-anchor="middle">2</text>
<text x="508" y="128" font-size="26" text-anchor="middle">1</text>
<text x="508" y="167.6" font-size="26" text-anchor="middle">0</text>
<text x="69.2" y="225.0" font-size="26" text-anchor="middle">70</text>
<text x="134.3" y="224.6" font-size="26" text-anchor="middle">71</text>
<text x="203.0" y="224.6" font-size="26" text-anchor="middle">72</text>
<text x="291.8" y="222.5" font-size="26" text-anchor="middle">214</text>
<text x="361.8" y="222.5" font-size="26" text-anchor="middle">215</text>
<text x="432.2" y="222.5" font-size="26" text-anchor="middle">216</text>
<text x="546.0" y="222.9" font-size="26" text-anchor="middle">437</text>
<text x="608.6" y="222.9" font-size="26" text-anchor="middle">438</text>
<text x="670.2" y="222.9" font-size="26" text-anchor="middle">439</text>
<text x="45.7" y="273.7" font-size="26" text-anchor="middle">3</text>
<text x="48.2" y="309.8" font-size="26" text-anchor="middle">1</text>
<text font-size="26"><tspan x="25.0" y="350.0" textLength="14.2" lengthAdjust="spacingAndGlyphs">−</tspan><tspan x="46.2" y="347.7" text-anchor="middle">1</tspan></text>
<text x="135.8" y="375.6" font-size="26" text-anchor="middle">100</text>
<text x="215.2" y="375.6" font-size="26" text-anchor="middle">200</text>
<text x="295.4" y="375.6" font-size="26" text-anchor="middle">300</text>
<text x="375.6" y="375.6" font-size="26" text-anchor="middle">400</text>
<text x="456" y="375.6" font-size="26" text-anchor="middle">500</text>
<text x="536.2" y="375.6" font-size="26" text-anchor="middle">600</text>
<text x="616.6" y="375.6" font-size="26" text-anchor="middle">700</text>
<text x="354.2" y="406.4" font-size="22" textLength="56.0" lengthAdjust="spacingAndGlyphs"><tspan font-style="italic">t</tspan> / ms</text>
</svg>
</body></html>
